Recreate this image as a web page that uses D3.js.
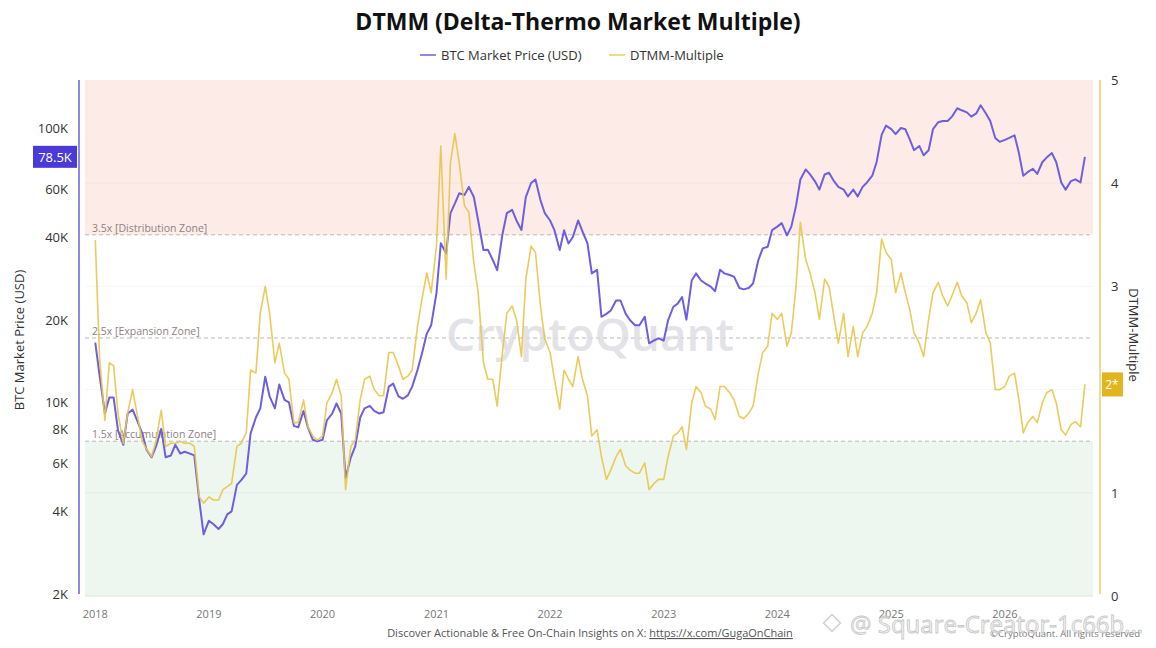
<!DOCTYPE html>
<html>
<head>
<meta charset="utf-8">
<script src="https://cdn.jsdelivr.net/npm/d3@7"></script>
<style>
  body { margin: 0; background: #fff; }
  svg { display: block; font-family: "Open Sans", "Noto Sans", sans-serif; }
</style>
</head>
<body>
<svg id="chart" width="1156" height="648"></svg>
<script>
// semi-monthly samples (1st and 15th) from Jan 2018 to mid Sep 2026
const startYear = 2018;
const btcPriceK = [
  16.5, 12.5, 9.1, 10.4, 10.4, 7.9, 7.0, 9.1, 9.4, 8.6,
  7.7, 6.7, 6.3, 6.9, 8.0, 6.3, 6.4, 7.0, 6.5, 6.6,
  6.5, 6.4, 4.4, 3.3, 3.7, 3.6, 3.45, 3.6, 3.9, 4.0,
  5.0, 5.2, 5.5, 7.7, 8.8, 9.5, 12.4, 10.5, 9.5, 11.6,
  10.2, 10.0, 8.2, 8.1, 9.3, 8.1, 7.3, 7.2, 7.3, 8.6,
  9.1, 9.9, 9.1, 5.3, 6.3, 6.9, 8.8, 9.5, 9.7, 9.3,
  9.1, 9.2, 11.4, 11.7, 10.5, 10.3, 10.6, 11.4, 13.1, 15.0,
  17.8, 19.1, 25, 38, 34.9, 48.9, 53, 57.8, 57, 61,
  56, 46, 35.9, 36, 33, 30.3, 41, 48.9, 50.3, 46,
  42.5, 56, 63, 64.9, 54.6, 48.9, 46, 42.4, 35.9, 42.4,
  37.9, 40, 46, 42, 38, 29.5, 30.4, 20.5, 21, 21.6,
  23.5, 23.5, 21, 19.9, 19.1, 19.1, 20.5, 16.4, 16.8, 17.1,
  16.8, 19.9, 22.3, 22.9, 24.2, 20, 27.8, 29.5, 27.8, 27.1,
  26.4, 25.4, 30.4, 29.5, 29.1, 28.7, 26.1, 25.8, 26.1, 27.1,
  33, 36.4, 36.9, 42.4, 43.7, 45, 40.6, 43.7, 52, 64.9,
  70.6, 67.7, 63.9, 59.6, 67.7, 68.7, 64, 61, 59.6, 56.3,
  59.6, 56.3, 61, 63.3, 67, 75.2, 94.4, 102, 99, 95,
  100, 99, 91, 83, 86, 79.5, 83, 99, 105, 106,
  106, 110, 118, 116, 114, 110, 113, 121, 113, 106,
  92, 89, 90.5, 92, 94, 81, 67, 69, 71, 68,
  75, 78, 81, 75, 63.3, 59.6, 64, 65, 63.3, 78.5
];
const dtmmMultiple = [
  3.45, 2.3, 1.7, 2.26, 2.23, 1.77, 1.48, 1.77, 2.0, 1.77,
  1.5, 1.42, 1.35, 1.5, 1.8, 1.45, 1.48, 1.48, 1.5, 1.48,
  1.48, 1.45, 0.96, 0.9, 0.96, 0.93, 0.93, 1.03, 1.06, 1.09,
  1.45, 1.48, 1.58, 2.19, 2.16, 2.74, 3.0, 2.74, 2.26, 2.45,
  2.16, 2.1, 1.68, 1.68, 1.9, 1.64, 1.55, 1.51, 1.55, 1.87,
  1.97, 2.1, 1.94, 1.03, 1.45, 1.51, 1.9, 2.1, 2.13, 2.0,
  1.94, 1.94, 2.36, 2.36, 2.23, 2.1, 2.13, 2.19, 2.61, 2.87,
  3.13, 2.94, 3.39, 4.36, 3.07, 4.2, 4.48, 4.2, 3.78, 3.72,
  3.23, 2.94, 2.26, 2.1, 2.1, 1.84, 2.36, 2.74, 2.81, 2.68,
  2.32, 3.07, 3.39, 3.33, 2.81, 2.49, 2.36, 2.1, 1.81, 2.19,
  2.1, 2.03, 2.32, 2.1, 1.94, 1.55, 1.61, 1.35, 1.13, 1.22,
  1.35, 1.42, 1.26, 1.22, 1.19, 1.19, 1.29, 1.03, 1.09, 1.13,
  1.13, 1.35, 1.55, 1.58, 1.64, 1.42, 1.87, 2.03, 1.97, 1.84,
  1.81, 1.71, 2.03, 2.03, 1.97, 1.9, 1.74, 1.72, 1.77, 1.84,
  2.16, 2.36, 2.42, 2.74, 2.68, 2.74, 2.42, 2.55, 3.0, 3.62,
  3.26, 3.13, 2.94, 2.68, 3.07, 3.0, 2.7, 2.45, 2.74, 2.32,
  2.61, 2.32, 2.55, 2.61, 2.74, 2.94, 3.46, 3.33, 3.26, 2.94,
  3.13, 2.94, 2.78, 2.55, 2.45, 2.32, 2.68, 2.94, 3.04, 2.91,
  2.81, 2.91, 3.04, 2.91, 2.84, 2.65, 2.74, 2.87, 2.55, 2.45,
  2.0, 2.0, 2.03, 2.13, 2.16, 1.9, 1.58, 1.68, 1.74, 1.68,
  1.87, 1.97, 2.0, 1.87, 1.61, 1.56, 1.66, 1.69, 1.64, 2.05
];
const leftTicks = [2000, 4000, 6000, 8000, 10000, 20000, 40000, 60000, 100000];
const rightTicks = [0, 1, 2, 3, 4, 5];
const zones = [
  { level: 3.5, label: '3.5x [Distribution Zone]' },
  { level: 2.5, label: '2.5x [Expansion Zone]' },
  { level: 1.5, label: '1.5x [Accumulation Zone]' }
];
const lastPriceLabel = '78.5K';
const lastDtmmLabel = '2*';

const dates = btcPriceK.map((_, i) => new Date(startYear, Math.floor(i / 2), i % 2 ? 15 : 1));
const rows = dates.map((d, i) => ({ date: d, price: btcPriceK[i] * 1000, dtmm: dtmmMultiple[i] }));

const svg = d3.select('#chart');
const L = 85, R = 1093, T = 80;

const x = d3.scaleTime().domain([new Date(2017, 10, 29), new Date(2026, 9, 11)]).range([L, R]);
const yP = d3.scaleLog().domain([2000, 149600]).range([594, T]);
const yM = d3.scaleLinear().domain([0, 5]).range([596, T]);

const purple = '#6d5fe0', yellow = '#e8c54a';

// zone backgrounds
svg.append('rect').attr('x', L).attr('y', T).attr('width', R - L).attr('height', yM(3.5) - T).attr('fill', '#fdebe7');
svg.append('rect').attr('x', L).attr('y', yM(1.5)).attr('width', R - L).attr('height', yM(0) - yM(1.5)).attr('fill', '#edf6ef');

// gridlines
svg.append('g').selectAll('line').data([1, 2, 3, 4]).join('line')
  .attr('x1', L).attr('x2', R).attr('y1', d => yM(d)).attr('y2', d => yM(d))
  .attr('stroke', '#000').attr('stroke-opacity', 0.04);
svg.append('line').attr('x1', L).attr('x2', R).attr('y1', yM(0)).attr('y2', yM(0)).attr('stroke', '#e4e4e4');

// zone lines + labels
const zg = svg.append('g');
zg.selectAll('line').data(zones).join('line')
  .attr('x1', L).attr('x2', R).attr('y1', d => yM(d.level)).attr('y2', d => yM(d.level))
  .attr('stroke', '#b9b9b9').attr('stroke-dasharray', '4,3');
zg.selectAll('text').data(zones).join('text')
  .attr('x', 92).attr('y', d => yM(d.level) - 3)
  .attr('font-size', 10.5).attr('fill', '#8c8282').text(d => d.label);

// watermark
svg.append('text').attr('x', 590).attr('y', 351).attr('text-anchor', 'middle')
  .attr('font-size', 46).attr('font-weight', 600).attr('fill', '#dcdce2').attr('opacity', 0.8)
  .text('CryptoQuant');

// series
svg.append('path').datum(rows)
  .attr('fill', 'none').attr('stroke', purple).attr('stroke-width', 2).attr('stroke-linejoin', 'round')
  .attr('d', d3.line().x(d => x(d.date)).y(d => yP(d.price)));
svg.append('path').datum(rows)
  .attr('fill', 'none').attr('stroke', yellow).attr('stroke-width', 1.6).attr('stroke-opacity', 0.9).attr('stroke-linejoin', 'round')
  .attr('d', d3.line().x(d => x(d.date)).y(d => yM(d.dtmm)));

// left axis
svg.append('line').attr('x1', 79).attr('x2', 79).attr('y1', T).attr('y2', 594).attr('stroke', '#8f86ea').attr('stroke-width', 2);
svg.append('g').selectAll('text').data(leftTicks).join('text')
  .attr('x', 68).attr('y', d => yP(d) + 5).attr('text-anchor', 'end')
  .attr('font-size', 13).attr('fill', '#333').text(d => d3.format('~s')(d).replace('k', 'K'));
svg.append('text').attr('transform', 'translate(24,340) rotate(-90)').attr('text-anchor', 'middle')
  .attr('font-size', 13).attr('fill', '#333').text('BTC Market Price (USD)');
const lastP = rows[rows.length - 1];
svg.append('rect').attr('x', 33).attr('y', yP(lastP.price) - 11).attr('width', 44).attr('height', 22).attr('fill', '#4a3ad8');
svg.append('text').attr('x', 55).attr('y', yP(lastP.price) + 5).attr('text-anchor', 'middle')
  .attr('font-size', 13).attr('fill', '#fff').text(lastPriceLabel);

// right axis
svg.append('line').attr('x1', 1100).attr('x2', 1100).attr('y1', T).attr('y2', 594).attr('stroke', '#f0da90').attr('stroke-width', 2);
svg.append('g').selectAll('text').data(rightTicks).join('text')
  .attr('x', 1111).attr('y', d => yM(d) + 5)
  .attr('font-size', 13).attr('fill', '#333').text(d => d);
svg.append('text').attr('transform', 'translate(1129,335) rotate(90)').attr('text-anchor', 'middle')
  .attr('font-size', 13).attr('fill', '#333').text('DTMM-Multiple');
svg.append('rect').attr('x', 1102).attr('y', yM(lastP.dtmm) - 12).attr('width', 21).attr('height', 24).attr('fill', '#e2b41e');
svg.append('text').attr('x', 1112).attr('y', yM(lastP.dtmm) + 5).attr('text-anchor', 'middle')
  .attr('font-size', 12).attr('fill', '#fff').text(lastDtmmLabel);

// x axis labels
svg.append('g').selectAll('text').data(d3.range(2018, 2027).map(yv => new Date(yv, 0, 1))).join('text')
  .attr('x', d => x(d)).attr('y', 618).attr('text-anchor', 'middle')
  .attr('font-size', 11).attr('fill', '#777').text(d => d.getFullYear());

// title + legend
svg.append('text').attr('x', 578).attr('y', 30).attr('text-anchor', 'middle')
  .attr('font-size', 23).attr('font-weight', 700).attr('fill', '#111').text('DTMM (Delta-Thermo Market Multiple)');
const legend = [
  { label: 'BTC Market Price (USD)', color: '#8f86ea', x: 420 },
  { label: 'DTMM-Multiple', color: '#eedb8a', x: 609 }
];
const lg = svg.append('g').selectAll('g').data(legend).join('g').attr('transform', d => `translate(${d.x},55)`);
lg.append('line').attr('x1', 0).attr('x2', 16).attr('stroke', d => d.color).attr('stroke-width', 2);
lg.append('text').attr('x', 21).attr('y', 5).attr('font-size', 13).attr('fill', '#333').text(d => d.label);

// footer
const foot = svg.append('text').attr('x', 590).attr('y', 637).attr('text-anchor', 'middle')
  .attr('font-size', 11).attr('fill', '#555');
foot.append('tspan').text('Discover Actionable & Free On-Chain Insights on X: ');
foot.append('tspan').attr('text-decoration', 'underline').text('https://x.com/GugaOnChain');
svg.append('text').attr('x', 1140).attr('y', 637).attr('text-anchor', 'end')
  .attr('font-size', 9.5).attr('fill', '#777').text('©CryptoQuant. All rights reserved');

// platform overlay watermark
const wm = svg.append('g').attr('opacity', 0.85);
wm.append('rect').attr('x', 826).attr('y', 617).attr('width', 12).attr('height', 12)
  .attr('transform', 'rotate(45 832 623)').attr('fill', 'none').attr('stroke', '#c8c8c8').attr('stroke-width', 1.5);
wm.append('text').attr('x', 850).attr('y', 633).attr('font-size', 24).attr('fill', '#f4f4f4')
  .attr('stroke', '#bdbdbd').attr('stroke-width', 0.8).text('@ Square-Creator-1c66b...');
</script>
</body>
</html>
